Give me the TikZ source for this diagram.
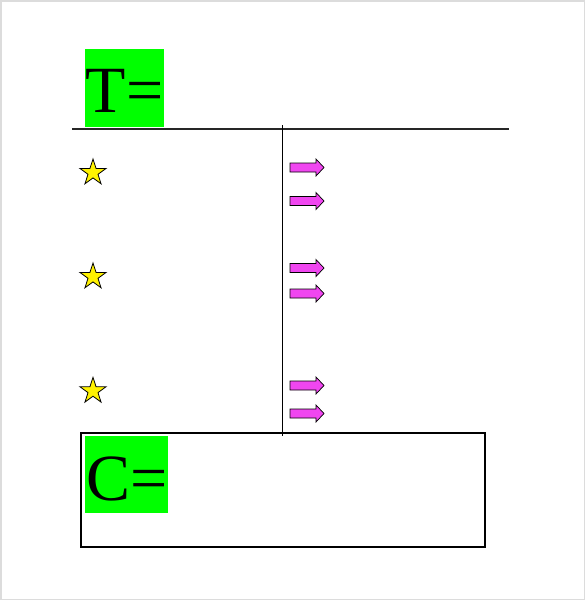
\documentclass[tikz,border=0pt]{standalone}
\usepackage{fontspec}
\setmainfont{Liberation Serif}
\usetikzlibrary{shapes.geometric}
\definecolor{gbox}{RGB}{0,255,0}
\definecolor{marr}{RGB}{240,70,240}
\definecolor{frame}{RGB}{220,220,220}
\tikzset{
  lbl/.style={fill=gbox, inner sep=0pt, anchor=north west, font=\fontsize{66}{66}\selectfont},
  starnode/.style={star, star points=5, star point ratio=2.618, draw=black, line width=0.8pt, fill=yellow, minimum size=27.4pt, inner sep=0pt},
  marrow/.pic={\draw[draw=black, line width=0.7pt, fill=marr, line join=miter]
      (0,-4.5) -- (26,-4.5) -- (26,-8.5) -- (34,0) -- (26,8.5) -- (26,4.5) -- (0,4.5) -- cycle;},
}
\begin{document}
\begin{tikzpicture}[x=1pt, y=-1pt]
\draw[frame, line width=1.5pt, fill=white] (0.75,0.75) rectangle (584.25,599.25);
\useasboundingbox (0,0) rectangle (585,600);
% title label
\node[lbl, minimum width=79pt, text height=63pt, text depth=15pt] (T) at (85,49) {T=};
% rules
\coordinate (hl) at (72,129);
\coordinate (hr) at (509,129);
\coordinate (vt) at (282,125);
\coordinate (vb) at (282,436);
\draw[line width=2pt, black!85] (hl) -- (hr);
\draw[line width=1pt] (vt) -- (vb);
% stars
\node[starnode] (s1) at (93,172.7) {};
\node[starnode] (s2) at (93,276.7) {};
\node[starnode] (s3) at (93,391) {};
% arrows
\pic (a1) at (290,167.5) {marrow};
\pic (a2) at (290,201) {marrow};
\pic (a3) at (290,268) {marrow};
\pic (a4) at (290,293.5) {marrow};
\pic (a5) at (290,385.5) {marrow};
\pic (a6) at (290,413.5) {marrow};
% conclusion box
\node[draw=black, line width=2pt, minimum width=404pt, minimum height=114pt, inner sep=0pt, anchor=north west] (box) at (80,432) {};
\node[lbl, minimum width=83pt, text height=64pt, text depth=13pt] (C) at (85,436) {C=};
\end{tikzpicture}
\end{document}
